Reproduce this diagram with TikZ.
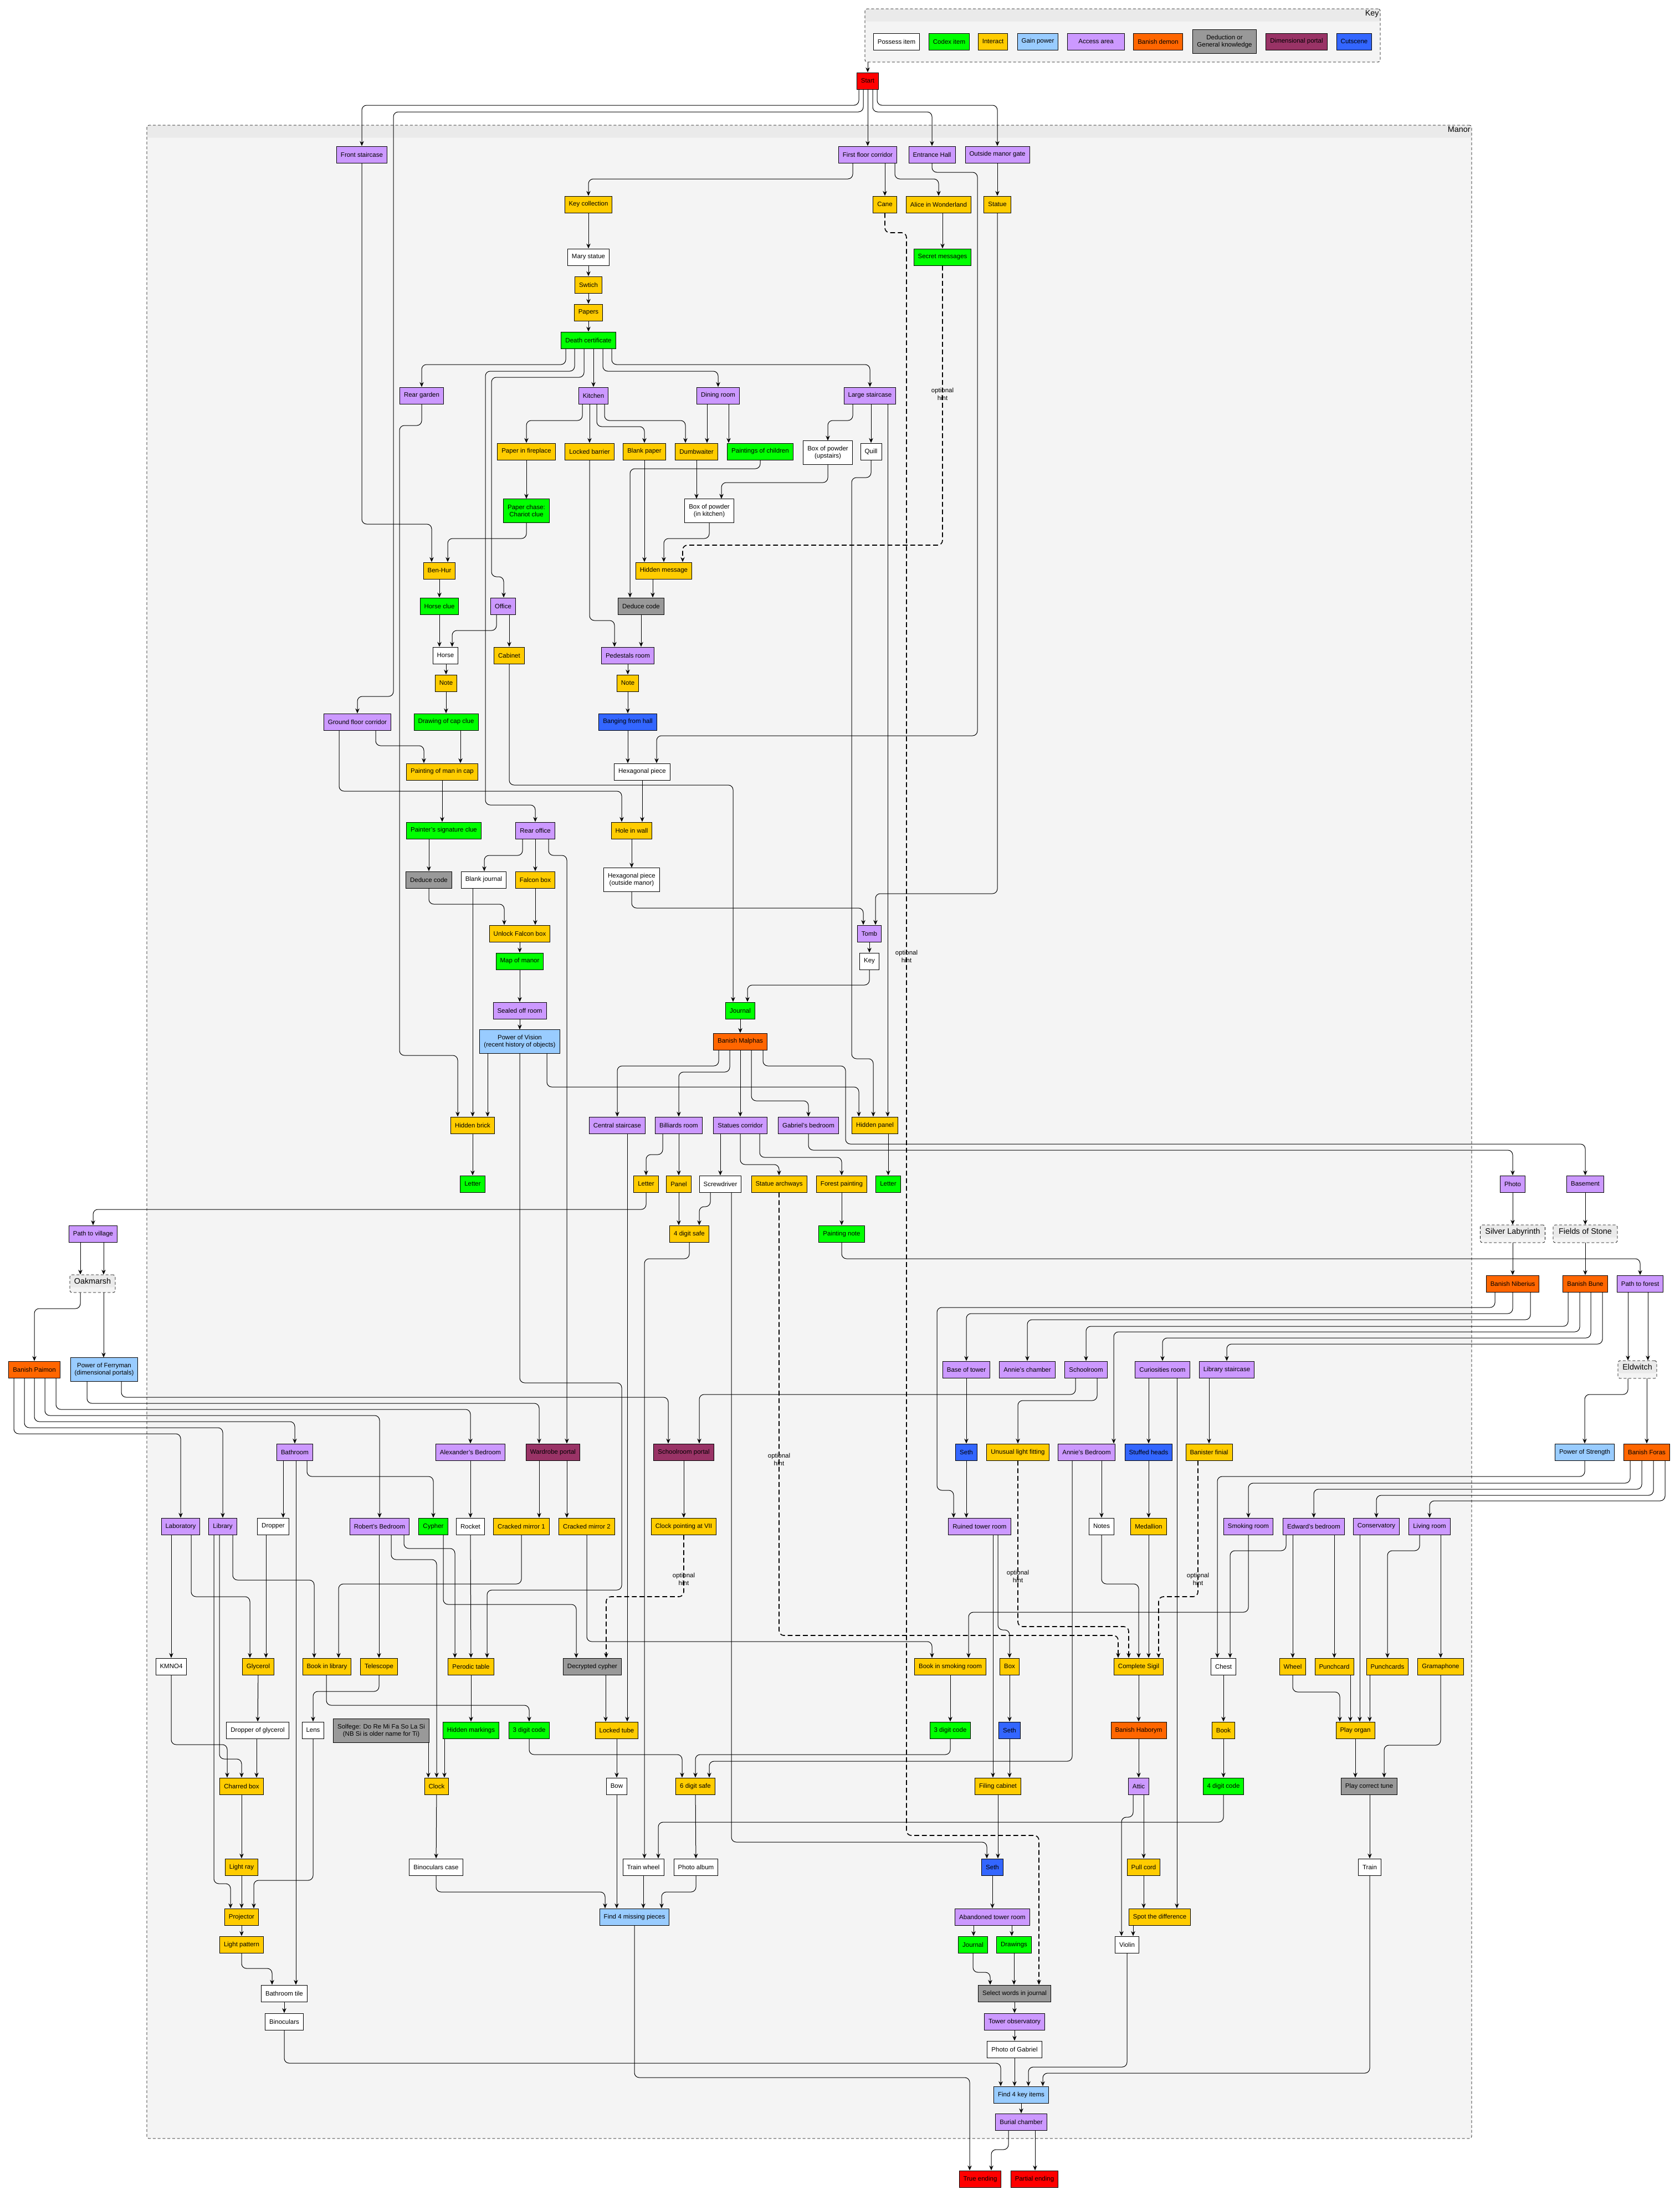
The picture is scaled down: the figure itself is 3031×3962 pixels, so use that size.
\documentclass[tikz,border=0pt]{standalone}
\usepackage{fontspec}
\setmainfont{Liberation Sans}
\usepackage{tikz}
\usetikzlibrary{arrows.meta, fit}

\definecolor{ccodex}{HTML}{00FF00}
\definecolor{cint}{HTML}{FFCC00}
\definecolor{cpow}{HTML}{99CCFF}
\definecolor{carea}{HTML}{CC99FF}
\definecolor{cdemon}{HTML}{FF6600}
\definecolor{cded}{HTML}{999999}
\definecolor{cportal}{HTML}{993366}
\definecolor{ccut}{HTML}{3366FF}
\definecolor{cend}{HTML}{FF0000}
\definecolor{cfill}{HTML}{F4F4F4}
\definecolor{cband}{HTML}{EAEAEA}

\tikzset{
  box/.style={draw, line width=0.8pt, inner xsep=6pt, inner ysep=2pt, minimum height=24pt,
    font=\fontsize{9.2}{11}\selectfont, align=center},
  two/.style={minimum height=34pt},
  poss/.style={box, fill=white},
  codex/.style={box, fill=ccodex},
  intr/.style={box, fill=cint},
  power/.style={box, fill=cpow},
  area/.style={box, fill=carea},
  demon/.style={box, fill=cdemon},
  deduce/.style={box, fill=cded},
  portal/.style={box, fill=cportal},
  scene/.style={box, fill=ccut},
  finish/.style={box, fill=cend},
  band/.style={path picture={\fill[cband] (path picture bounding box.north west)
    rectangle ([yshift=-18pt]path picture bounding box.north east);}},
  cont/.style={draw, dash pattern=on 4pt off 3pt, line width=0.6pt, rounded corners=3pt,
    fill=cfill, inner sep=0pt, band},
  grp/.style={cont, minimum height=25.6pt, inner xsep=3pt,
    font=\fontsize{11.5}{13}\selectfont, text height=8.5pt, text depth=7.5pt},
  ttl/.style={font=\fontsize{11.5}{13}\selectfont, inner sep=2pt},
  e/.style={-{Stealth[length=7pt,width=6pt]}, line width=0.8pt, rounded corners=7pt},
  opt/.style={e, line width=1.3pt, dash pattern=on 7pt off 4pt},
  hint/.style={font=\fontsize{9.2}{11}\selectfont, align=center, inner sep=0pt},
}

\begin{document}
\begin{tikzpicture}[x=0.8pt, y=-0.8pt]
\path[use as bounding box, fill=white] (0,0) rectangle (3031,3962);

% Containers
\node[cont, fit={(265,226) (2656,3860)}] (manor) {};
\node[ttl, anchor=north east] at (manor.north east) {Manor};
\node[cont, fit={(1561,16) (2491,112)}] (keybox) {};
\node[ttl, anchor=north east] at (keybox.north east) {Key};

% Key
\node[poss] (kPoss) at (1618,75) {Possess item};
\node[codex] (kCodex) at (1713,75) {Codex item};
\node[intr] (kInt) at (1792,75) {Interact};
\node[power] (kPow) at (1873,75) {Gain power};
\node[area, minimum width=83pt] (kArea) at (1978,75) {Access area};
\node[demon] (kDemon) at (2090,75) {Banish demon};
\node[deduce, two] (kDed) at (2210,75) {Deduction or\\General knowledge};
\node[portal] (kPortal) at (2340,75) {Dimensional portal};
\node[scene] (kScene) at (2444,75) {Cutscene};

\node[finish] (start) at (1566,146) {Start};

% Manor, upper floors
\node[area] (frontst) at (653,279) {Front staircase};
\node[area] (ffcorr) at (1566,279) {First floor corridor};
\node[area] (enthall) at (1682,279) {Entrance Hall};
\node[area] (outgate) at (1800,279) {Outside manor gate};
\node[intr] (keycoll) at (1062,369) {Key collection};
\node[intr] (cane) at (1597,369) {Cane};
\node[intr] (alice) at (1694,369) {Alice in Wonderland};
\node[intr] (statue) at (1800,369) {Statue};
\node[poss] (mary) at (1062,464) {Mary statue};
\node[codex] (secret) at (1701,464) {Secret messages};
\node[intr] (swtich) at (1062,514) {Swtich};
\node[intr] (papers) at (1062,564) {Papers};
\node[codex] (death) at (1062,614) {Death certificate};
\node[area] (reargdn) at (761,714) {Rear garden};
\node[area] (kitchen) at (1071,714) {Kitchen};
\node[area] (dining) at (1296,714) {Dining room};
\node[area] (largest) at (1570,714) {Large staircase};
\node[intr] (fireplc) at (950,815) {Paper in fireplace};
\node[intr] (barrier) at (1064,815) {Locked barrier};
\node[intr] (blankpp) at (1163,815) {Blank paper};
\node[intr] (dumbw) at (1257,815) {Dumbwaiter};
\node[codex] (paintch) at (1372,815) {Paintings of children};
\node[poss, two] (powup) at (1494,817) {Box of powder\\(upstairs)};
\node[poss] (quill) at (1572,815) {Quill};
\node[codex, two] (chariot) at (950,922) {Paper chase:\\Chariot clue};
\node[poss, two] (powkit) at (1280,922) {Box of powder\\(in kitchen)};
\node[intr] (benhur) at (793,1030) {Ben-Hur};
\node[intr] (hidmsg) at (1198,1030) {Hidden message};
\node[codex] (horsecl) at (793,1094) {Horse clue};
\node[area] (office) at (908,1094) {Office};
\node[deduce] (dedcode2) at (1157,1094) {Deduce code};
\node[poss] (horse) at (804,1183) {Horse};
\node[intr] (cabinet) at (919,1183) {Cabinet};
\node[area] (pedest) at (1133,1183) {Pedestals room};
\node[intr] (note1) at (805,1233) {Note};
\node[intr] (note2) at (1133,1233) {Note};
\node[area] (gfcorr) at (645,1303) {Ground floor corridor};
\node[codex] (capclue) at (805,1303) {Drawing of cap clue};
\node[scene] (banging) at (1133,1303) {Banging from hall};
\node[intr] (mancap) at (798,1393) {Painting of man in cap};
\node[poss] (hexa) at (1159,1393) {Hexagonal piece};
\node[codex] (signat) at (801,1499) {Painter's signature clue};
\node[area] (rearoff) at (966,1499) {Rear office};
\node[intr] (holewall) at (1140,1499) {Hole in wall};
\node[deduce] (dedcode1) at (774,1588) {Deduce code};
\node[poss] (blankjr) at (873,1588) {Blank journal};
\node[intr] (falcon) at (966,1588) {Falcon box};
\node[poss, two] (hexout) at (1140,1588) {Hexagonal piece\\(outside manor)};
\node[intr] (unlock) at (938,1685) {Unlock Falcon box};
\node[area] (tomb) at (1569,1685) {Tomb};
\node[codex] (mapman) at (938,1735) {Map of manor};
\node[poss] (keyitem) at (1569,1735) {Key};
\node[area] (sealed) at (938,1824) {Sealed off room};
\node[codex] (journal1) at (1336,1824) {Journal};
\node[power, two] (vision) at (938,1880) {Power of Vision\\(recent history of objects)};
\node[demon] (malphas) at (1336,1880) {Banish Malphas};
\node[intr] (hidbrick) at (853,2031) {Hidden brick};
\node[area] (central) at (1114,2031) {Central staircase};
\node[area] (billiard) at (1225,2031) {Billiards room};
\node[area] (statcorr) at (1336,2031) {Statues corridor};
\node[area] (gabriel) at (1459,2031) {Gabriel's bedroom};
\node[intr] (hidpanel) at (1579,2031) {Hidden panel};
\node[codex] (letterg1) at (853,2137) {Letter};
\node[intr] (lettery) at (1166,2137) {Letter};
\node[intr] (panel) at (1225,2137) {Panel};
\node[poss] (screwd) at (1300,2137) {Screwdriver};
\node[intr] (archway) at (1406,2137) {Statue archways};
\node[intr] (forestp) at (1519,2137) {Forest painting};
\node[codex] (letterg2) at (1603,2137) {Letter};
\node[intr] (safe4) at (1244,2227) {4 digit safe};
\node[codex] (paintnote) at (1519,2227) {Painting note};

% Outside the manor
\node[area] (photo) at (2730,2137) {Photo};
\node[area] (basement) at (2861,2137) {Basement};
\node[grp, minimum width=93.6pt] (silver) at (2730,2227) {Silver Labyrinth};
\node[grp, minimum width=92.8pt] (fields) at (2861,2227) {Fields of Stone};
\node[demon] (niberius) at (2730,2317) {Banish Niberius};
\node[demon] (bune) at (2861,2317) {Banish Bune};
\node[area] (pathfor) at (2960,2317) {Path to forest};
\node[grp, minimum width=56pt] (eldwitch) at (2955,2472) {Eldwitch};
\node[power] (strength) at (2860,2621) {Power of Strength};
\node[demon] (foras) at (2972,2621) {Banish Foras};
\node[area] (pathvil) at (168,2227) {Path to village};
\node[grp, minimum width=65.6pt] (oak) at (167,2317) {Oakmarsh};
\node[demon] (paimon) at (62,2472) {Banish Paimon};
\node[power, two] (ferry) at (188,2472) {Power of Ferryman\\(dimensional portals)};

% Manor, lower part
\node[area] (towerbase) at (1744,2472) {Base of tower};
\node[area] (anniech) at (1854,2472) {Annie's chamber};
\node[area] (school) at (1960,2472) {Schoolroom};
\node[area] (curios) at (2098,2472) {Curiosities room};
\node[area] (libstair) at (2214,2472) {Library staircase};
\node[area] (bathroom) at (532,2621) {Bathroom};
\node[area] (alexbed) at (849,2621) {Alexander's Bedroom};
\node[portal] (wardrobe) at (998,2621) {Wardrobe portal};
\node[portal] (schportal) at (1234,2621) {Schoolroom portal};
\node[scene] (seth1) at (1744,2621) {Seth};
\node[intr] (lightfit) at (1837,2621) {Unusual light fitting};
\node[area] (anniebed) at (1961,2621) {Annie's Bedroom};
\node[scene] (stuffed) at (2073,2621) {Stuffed heads};
\node[intr] (banister) at (2182,2621) {Banister finial};
\node[area] (lab) at (326,2755) {Laboratory};
\node[area] (library) at (402,2755) {Library};
\node[poss] (dropper) at (493,2755) {Dropper};
\node[area] (robbed) at (685,2755) {Robert's Bedroom};
\node[codex] (cypher) at (782,2755) {Cypher};
\node[poss] (rocket) at (849,2755) {Rocket};
\node[intr] (mirror1) at (941,2755) {Cracked mirror 1};
\node[intr] (mirror2) at (1059,2755) {Cracked mirror 2};
\node[intr] (clockvii) at (1234,2755) {Clock pointing at VII};
\node[area] (ruined) at (1768,2755) {Ruined tower room};
\node[poss] (notes) at (1988,2755) {Notes};
\node[intr] (medal) at (2073,2755) {Medallion};
\node[area] (smoking) at (2253,2755) {Smoking room};
\node[area] (edward) at (2371,2755) {Edward's bedroom};
\node[area] (conserv) at (2484,2755) {Conservatory};
\node[area] (living) at (2580,2755) {Living room};
\node[poss] (kmno) at (309,3008) {KMNO4};
\node[intr] (glycerol) at (466,3008) {Glycerol};
\node[intr] (booklib) at (590,3008) {Book in library};
\node[intr] (telescope) at (684,3008) {Telescope};
\node[intr] (periodic) at (850,3008) {Perodic table};
\node[deduce] (decrypt) at (1069,3008) {Decrypted cypher};
\node[intr] (booksmk) at (1715,3008) {Book in smoking room};
\node[intr] (box) at (1822,3008) {Box};
\node[intr] (sigil) at (2055,3008) {Complete Sigil};
\node[poss] (chest) at (2208,3008) {Chest};
\node[intr] (wheel) at (2333,3008) {Wheel};
\node[intr] (punch1) at (2408,3008) {Punchcard};
\node[intr] (punch2) at (2504,3008) {Punchcards};
\node[intr] (gramo) at (2600,3008) {Gramaphone};
\node[poss] (dropgly) at (465,3123) {Dropper of glycerol};
\node[poss] (lens) at (565,3123) {Lens};
\node[deduce, two] (solfege) at (688,3124) {Solfege: Do Re Mi Fa So La Si\\(NB Si is older name for Ti)};
\node[codex] (hidmark) at (850,3123) {Hidden markings};
\node[codex] (code3a) at (955,3123) {3 digit code};
\node[intr] (lockedtube) at (1113,3123) {Locked tube};
\node[codex] (code3b) at (1715,3123) {3 digit code};
\node[scene] (seth2) at (1822,3123) {Seth};
\node[demon] (haborym) at (2055,3123) {Banish Haborym};
\node[intr] (book) at (2208,3123) {Book};
\node[intr] (organ) at (2446,3123) {Play organ};
\node[intr] (charred) at (436,3224) {Charred box};
\node[intr] (clock) at (788,3224) {Clock};
\node[poss] (bow) at (1113,3224) {Bow};
\node[intr] (safe6) at (1255,3224) {6 digit safe};
\node[intr] (filing) at (1801,3224) {Filing cabinet};
\node[area] (attic) at (2055,3224) {Attic};
\node[codex] (code4) at (2208,3224) {4 digit code};
\node[deduce] (tune) at (2471,3224) {Play correct tune};
\node[intr] (lightray) at (436,3370) {Light ray};
\node[poss] (binocase) at (787,3370) {Binoculars case};
\node[poss] (trainwh) at (1161,3370) {Train wheel};
\node[poss] (album) at (1256,3370) {Photo album};
\node[scene] (seth3) at (1791,3370) {Seth};
\node[intr] (pullcord) at (2064,3370) {Pull cord};
\node[poss] (train) at (2472,3370) {Train};
\node[intr] (projector) at (436,3460) {Projector};
\node[power] (missing) at (1145,3460) {Find 4 missing pieces};
\node[area] (abandon) at (1791,3460) {Abandoned tower room};
\node[intr] (spotdiff) at (2093,3460) {Spot the difference};
\node[intr] (lightpat) at (436,3510) {Light pattern};
\node[codex] (journal2) at (1756,3510) {Journal};
\node[codex] (drawings) at (1830,3510) {Drawings};
\node[poss] (violin) at (2034,3510) {Violin};
\node[poss] (bathtile) at (513,3598) {Bathroom tile};
\node[deduce] (selwords) at (1831,3598) {Select words in journal};
\node[poss] (binoc) at (513,3649) {Binoculars};
\node[area] (towerobs) at (1831,3649) {Tower observatory};
\node[poss] (photogab) at (1831,3699) {Photo of Gabriel};
\node[power] (keyitems) at (1843,3781) {Find 4 key items};
\node[area] (burial) at (1843,3830) {Burial chamber};
\node[finish] (trueend) at (1769,3933) {True ending};
\node[finish] (partend) at (1867,3933) {Partial ending};

% Start and first floor
\draw[e] (keybox.south -| start) -- (start);
\draw[e] (start.south -| 1550,0) |- (653,190) -- (frontst);
\draw[e] (start.south -| 1558,0) |- (710,202) |- (645,1257) -- (gfcorr);
\draw[e] (start) -- (ffcorr);
\draw[e] (start.south -| 1575,0) |- (1682,202) -- (enthall);
\draw[e] (start.south -| 1583,0) |- (1800,190) -- (outgate);
\draw[e] (ffcorr.south -| 1539,0) |- (1062,323) -- (keycoll);
\draw[e] (ffcorr.south -| cane) -- (cane);
\draw[e] (ffcorr.south -| 1615,0) |- (1694,323) -- (alice);
\draw[e] (enthall.south) |- (1764,311) |- (1185,1328) -- (hexa.north -| 1185,0);
\draw[e] (outgate) -- (statue);
\draw[e] (statue) |- (1580,1613) -- (tomb.north -| 1580,0);
\draw[e] (keycoll) -- (mary);
\draw[e] (mary) -- (swtich);
\draw[e] (swtich) -- (papers);
\draw[e] (papers) -- (death);
\draw[e] (alice.south -| secret) -- (secret);
\draw[opt] (cane) |- (1636,420) -- (1636,1726) node[hint] {optional\\hint} |- (1875,3313) -- (selwords.north -| 1875,0);
\draw[opt] (secret) -- (1701,711) node[hint] {optional\\hint} |- (1232,984) -- (hidmsg.north -| 1232,0);

% Death certificate and the rooms it opens
\draw[e] (death.south -| 1021,0) |- (761,658) -- (reargdn);
\draw[e] (death.south -| 1037,0) |- (876,670) |- (966,1453) -- (rearoff);
\draw[e] (death.south -| 1054,0) |- (887,681) |- (909,1041) -- (office.north -| 909,0);
\draw[e] (death.south -| kitchen) -- (kitchen);
\draw[e] (death.south -| 1088,0) |- (1296,670) -- (dining);
\draw[e] (death.south -| 1104,0) |- (1570,658) -- (largest);
\draw[e] (kitchen.south -| 1051,0) |- (950,759) -- (fireplc);
\draw[e] (kitchen.south -| barrier) -- (barrier);
\draw[e] (kitchen.south -| 1077,0) |- (1163,770) -- (blankpp);
\draw[e] (kitchen.south -| 1091,0) |- (1237,759) -- (dumbw.north -| 1237,0);
\draw[e] (dining.south -| 1276,0) -- (dumbw.north -| 1276,0);
\draw[e] (dining.south -| 1315,0) -- (paintch.north -| 1315,0);
\draw[e] (largest.south -| 1539,0) |- (1494,759) -- (powup);
\draw[e] (largest.south -| quill) -- (quill);
\draw[e] (largest.south -| 1602,0) -- (hidpanel.north -| 1602,0);
\draw[e] (fireplc) -- (chariot);
\draw[e] (barrier) |- (1109,1120) -- (pedest.north -| 1109,0);
\draw[e] (blankpp) -- (hidmsg.north -| blankpp);
\draw[e] (dumbw) -- (powkit.north -| dumbw);
\draw[e] (paintch) |- (1137,846) -- (dedcode2.north -| 1137,0);
\draw[e] (powup) |- (1302,871) -- (powkit.north -| 1302,0);
\draw[e] (quill) |- (1537,862) |- (1576,1911) -- (hidpanel.north -| 1576,0);
\draw[e] (powkit) |- (1198,972) -- (hidmsg);
\draw[e] (hidmsg.south -| 1178,0) -- (dedcode2.north -| 1178,0);
\draw[e] (dedcode2) -- (pedest.north -| dedcode2);
\draw[e] (pedest) -- (note2);
\draw[e] (note2) -- (banging);
\draw[e] (banging) -- (hexa.north -| banging);
\draw[e] (hexa) -- (holewall.north -| hexa);
\draw[e] (holewall) -- (hexout);
\draw[e] (hexout) |- (1558,1639) -- (tomb.north -| 1558,0);
\draw[e] (tomb) -- (keyitem);
\draw[e] (keyitem) |- (1349,1778) -- (journal1.north -| 1349,0);
\draw[e] (cabinet) |- (1323,1417) -- (journal1.north -| 1323,0);
\draw[e] (journal1) -- (malphas);

% Ground floor, west wing
\draw[e] (frontst) |- (779,946) -- (benhur.north -| 779,0);
\draw[e] (chariot) |- (808,972) -- (benhur.north -| 808,0);
\draw[e] (benhur) -- (horsecl);
\draw[e] (horsecl) -- (horse.north -| horsecl);
\draw[e] (office.south -| 896,0) |- (816,1138) -- (horse.north -| 816,0);
\draw[e] (office.south -| cabinet) -- (cabinet);
\draw[e] (horse.south -| note1) -- (note1);
\draw[e] (note1) -- (capclue);
\draw[e] (capclue.south -| 831,0) -- (mancap.north -| 831,0);
\draw[e] (gfcorr.south -| 678,0) |- (765,1346) -- (mancap.north -| 765,0);
\draw[e] (gfcorr.south -| 612,0) |- (1122,1428) -- (holewall.north -| 1122,0);
\draw[e] (reargdn) |- (721,768) |- (826,1905) -- (hidbrick.north -| 826,0);
\draw[e] (mancap) -- (signat.north -| mancap);
\draw[e] (signat.south -| dedcode1) -- (dedcode1);
\draw[e] (rearoff.south -| 943,0) |- (874,1544) -- (blankjr.north -| 874,0);
\draw[e] (rearoff) -- (falcon);
\draw[e] (rearoff.south -| 990,0) |- (1023,1544) -- (wardrobe.north -| 1023,0);
\draw[e] (dedcode1) |- (910,1632) -- (unlock.north -| 910,0);
\draw[e] (falcon) -- (unlock.north -| falcon);
\draw[e] (unlock) -- (mapman);
\draw[e] (mapman) -- (sealed);
\draw[e] (sealed) -- (vision);
\draw[e] (blankjr.south -| hidbrick) -- (hidbrick);
\draw[e] (vision.south -| 880,0) -- (hidbrick.north -| 880,0);
\draw[e] (vision) |- (1122,2496) |- (879,2870) -- (periodic.north -| 879,0);
\draw[e] (vision.south -| 987,0) |- (1550,1962) -- (hidpanel.north -| 1550,0);
\draw[e] (hidbrick) -- (letterg1);

% Banish Malphas
\draw[e] (malphas.south -| 1297,0) |- (1114,1924) -- (central);
\draw[e] (malphas.south -| 1317,0) |- (1225,1935) -- (billiard);
\draw[e] (malphas) -- (statcorr);
\draw[e] (malphas.south -| 1356,0) |- (1459,1987) -- (gabriel);
\draw[e] (malphas.south -| 1377,0) |- (1526,1924) |- (2861,2065) -- (basement);
\draw[e] (gabriel) |- (2730,2076) -- (photo);
\draw[e] (hidpanel.south -| letterg2) -- (letterg2);
\draw[e] (billiard.south -| 1196,0) |- (1166,2084) -- (lettery);
\draw[e] (billiard) -- (panel);
\draw[e] (statcorr.south -| screwd) -- (screwd);
\draw[e] (statcorr) |- (1406,2102) -- (archway);
\draw[e] (statcorr.south -| 1371,0) |- (1519,2089) -- (forestp);
\draw[e] (lettery) |- (168,2183) -- (pathvil);
\draw[e] (panel) -- (safe4.north -| panel);
\draw[e] (screwd.south -| 1282,0) |- (1262,2178) -- (safe4.north -| 1262,0);
\draw[e] (screwd.south -| 1320,0) |- (1781,3325) -- (seth3.north -| 1781,0);
\draw[e] (safe4) |- (1163,2272) -- (trainwh.north -| 1163,0);
\draw[e] (forestp) -- (paintnote);
\draw[e] (paintnote) |- (2960,2272) -- (pathfor);
\draw[opt] (archway) -- (1406,2634) node[hint] {optional\\hint} |- (2018,2952) -- (sigil.north -| 2018,0);

% Labyrinth, Fields of Stone, Eldwitch
\draw[e] (photo) -- (silver);
\draw[e] (silver) -- (niberius);
\draw[e] (basement) -- (fields);
\draw[e] (fields) -- (bune);
\draw[e] (niberius.south -| 2698,0) |- (1691,2360) |- (1721,2690) -- (ruined.north -| 1721,0);
\draw[e] (niberius) |- (1744,2371) -- (towerbase);
\draw[e] (niberius.south -| 2762,0) |- (1854,2382) -- (anniech);
\draw[e] (bune.south -| 2830,0) |- (1960,2394) -- (school);
\draw[e] (bune.south -| 2851,0) |- (2010,2404) -- (anniebed.north -| 2010,0);
\draw[e] (bune.south -| 2871,0) |- (2098,2415) -- (curios);
\draw[e] (bune.south -| 2892,0) |- (2214,2426) -- (libstair);
\draw[e] (pathfor.south -| 2938,0) -- (eldwitch.north -| 2938,0);
\draw[e] (pathfor.south -| 2974,0) -- (eldwitch.north -| 2974,0);
\draw[e] (eldwitch.south -| 2938,0) |- (2860,2517) -- (strength);
\draw[e] (eldwitch.south -| foras) -- (foras);
\draw[e] (strength) |- (2197,2665) -- (chest.north -| 2197,0);
\draw[e] (foras.south -| 2942,0) |- (2253,2677) -- (smoking);
\draw[e] (foras.south -| 2963,0) |- (2371,2688) -- (edward);
\draw[e] (foras.south -| 2984,0) |- (2484,2699) -- (conserv);
\draw[e] (foras.south -| 3005,0) |- (2580,2709) -- (living);

% Oakmarsh
\draw[e] (pathvil.south -| 145,0) -- (oak.north -| 145,0);
\draw[e] (pathvil.south -| 187,0) -- (oak.north -| 187,0);
\draw[e] (oak.south -| 145,0) |- (62,2362) -- (paimon);
\draw[e] (oak.south -| 187,0) -- (ferry.north -| 187,0);
\draw[e] (paimon.south -| 25,0) |- (326,2588) -- (lab);
\draw[e] (paimon.south -| 44,0) |- (402,2577) -- (library);
\draw[e] (paimon.south -| 62,0) |- (532,2566) -- (bathroom);
\draw[e] (paimon.south -| 81,0) |- (685,2555) -- (robbed);
\draw[e] (paimon.south -| 101,0) |- (849,2544) -- (alexbed);
\draw[e] (ferry.south -| 157,0) |- (973,2533) -- (wardrobe.north -| 973,0);
\draw[e] (ferry.south -| 219,0) |- (1206,2522) -- (schportal.north -| 1206,0);

% Schoolroom, tower, curiosities
\draw[e] (school.south -| 1941,0) |- (1262,2517) -- (schportal.north -| 1262,0);
\draw[e] (school.south -| 1980,0) |- (1837,2528) -- (lightfit);
\draw[e] (towerbase) -- (seth1);
\draw[e] (seth1) -- (ruined.north -| seth1);
\draw[opt] (lightfit) -- (1837,2845) node[hint] {optional\\hint} |- (2037,2936) -- (sigil.north -| 2037,0);
\draw[e] (anniebed.south -| notes) -- (notes);
\draw[e] (anniebed.south -| 1935,0) |- (1280,3179) -- (safe6.north -| 1280,0);
\draw[e] (curios.south -| stuffed) -- (stuffed);
\draw[e] (curios.south -| 2124,0) -- (spotdiff.north -| 2124,0);
\draw[e] (libstair.south -| banister) -- (banister);
\draw[opt] (banister.south -| 2162,0) -- (2162,2850) node[hint] {optional\\hint} |- (2091,2882) -- (sigil.north -| 2091,0);
\draw[e] (stuffed) -- (medal);
\draw[e] (medal) -- (sigil.north -| medal);
\draw[e] (notes) |- (2055,2859) -- (sigil);
\draw[e] (smoking) |- (1748,2910) -- (booksmk.north -| 1748,0);
\draw[e] (edward.south -| 2321,0) |- (2220,2799) -- (chest.north -| 2220,0);
\draw[e] (edward.south -| wheel) -- (wheel);
\draw[e] (edward.south -| punch1) -- (punch1);
\draw[e] (conserv.south -| 2454,0) -- (organ.north -| 2454,0);
\draw[e] (living.south -| 2562,0) |- (2504,2799) -- (punch2);
\draw[e] (living.south -| gramo) -- (gramo);
\draw[e] (wheel) |- (2418,3054) -- (organ.north -| 2418,0);
\draw[e] (punch1.south -| 2437,0) -- (organ.north -| 2437,0);
\draw[e] (punch2.south -| 2472,0) -- (organ.north -| 2472,0);
\draw[e] (gramo) |- (2498,3150) -- (tune.north -| 2498,0);
\draw[e] (organ) -- (tune.north -| organ);
\draw[e] (tune.south -| train) -- (train);
\draw[e] (train) |- (1882,3742) -- (keyitems.north -| 1882,0);
\draw[e] (sigil) -- (haborym);
\draw[e] (haborym) -- (attic);
\draw[e] (attic.south -| 2045,0) |- (2024,3280) -- (violin.north -| 2024,0);
\draw[e] (attic.south -| pullcord) -- (pullcord);
\draw[e] (pullcord) -- (spotdiff.north -| pullcord);
\draw[e] (spotdiff.south -| 2045,0) -- (violin.north -| 2045,0);
\draw[e] (violin) |- (1856,3731) -- (keyitems.north -| 1856,0);
\draw[e] (chest) -- (book);
\draw[e] (book) -- (code4);
\draw[e] (code4) |- (1188,3289) -- (trainwh.north -| 1188,0);
\draw[e] (ruined.south -| 1801,0) |- (1822,2942) -- (box);
\draw[e] (ruined.south -| 1792,0) -- (filing.north -| 1792,0);
\draw[e] (box) -- (seth2);
\draw[e] (seth2) -- (filing.north -| seth2);

% Portals, mirrors, safes
\draw[e] (mirror2) |- (1682,2963) -- (booksmk.north -| 1682,0);
\draw[e] (booksmk) -- (code3b);
\draw[e] (code3b) |- (1255,3167) -- (safe6);
\draw[e] (code3a) |- (1231,3167) -- (safe6.north -| 1231,0);
\draw[e] (safe6) -- (album);
\draw[e] (album) |- (1194,3415) -- (missing.north -| 1194,0);
\draw[e] (trainwh) -- (missing.north -| trainwh);
\draw[e] (bow) -- (missing.north -| bow);
\draw[e] (binocase) |- (1092,3415) -- (missing.north -| 1092,0);
\draw[e] (missing) |- (1750,3750) -- (trueend.north -| 1750,0);
\draw[e] (lockedtube) -- (bow);
\draw[e] (decrypt.south -| 1093,0) -- (lockedtube.north -| 1093,0);
\draw[e] (central.south -| 1132,0) -- (lockedtube.north -| 1132,0);
\draw[e] (cypher.south -| 800,0) |- (1040,2896) -- (decrypt.north -| 1040,0);
\draw[opt] (clockvii) -- (1234,2850) node[hint] {optional\\hint} |- (1094,2882) -- (decrypt.north -| 1094,0);
\draw[e] (schportal) -- (clockvii);
\draw[e] (wardrobe.south -| 973,0) -- (mirror1.north -| 973,0);
\draw[e] (wardrobe.south -| 1023,0) -- (mirror2.north -| 1023,0);
\draw[e] (mirror1) |- (611,2859) -- (booklib.north -| 611,0);
\draw[e] (alexbed) -- (rocket);
\draw[e] (rocket) -- (periodic);

% Bathroom, laboratory, library
\draw[e] (bathroom.south -| 511,0) -- (dropper.north -| 511,0);
\draw[e] (bathroom.south -| 534,0) -- (bathtile.north -| 534,0);
\draw[e] (bathroom.south -| 554,0) |- (782,2665) -- (cypher);
\draw[e] (lab.south -| kmno) -- (kmno);
\draw[e] (lab.south -| 345,0) |- (451,2882) -- (glycerol.north -| 451,0);
\draw[e] (library.south -| 386,0) |- (416,3400) -- (projector.north -| 416,0);
\draw[e] (library.south -| 396,0) |- (436,3175) -- (charred);
\draw[e] (library.south -| 420,0) |- (567,2852) -- (booklib.north -| 567,0);
\draw[e] (dropper.south -| 480,0) -- (glycerol.north -| 480,0);
\draw[e] (robbed.south -| telescope) -- (telescope);
\draw[e] (robbed.south -| 706,0) |- (788,2815) -- (clock);
\draw[e] (robbed.south -| 729,0) |- (821,2795) -- (periodic.north -| 821,0);
\draw[e] (glycerol) -- (dropgly);
\draw[e] (kmno) |- (410,3149) -- (charred.north -| 410,0);
\draw[e] (dropgly.south -| 463,0) -- (charred.north -| 463,0);
\draw[e] (charred) -- (lightray);
\draw[e] (lightray) -- (projector);
\draw[e] (telescope) |- (565,3053) -- (lens);
\draw[e] (lens) |- (458,3394) -- (projector.north -| 458,0);
\draw[e] (booklib.south -| 589,0) |- (955,3078) -- (code3a);
\draw[e] (periodic) -- (hidmark);
\draw[e] (solfege.south -| 773,0) -- (clock.north -| 773,0);
\draw[e] (hidmark.south -| 802,0) -- (clock.north -| 802,0);
\draw[e] (clock) -- (binocase);
\draw[e] (projector) -- (lightpat);
\draw[e] (lightpat) |- (491,3553) -- (bathtile.north -| 491,0);
\draw[e] (bathtile) -- (binoc);
\draw[e] (binoc) |- (1806,3724) -- (keyitems.north -| 1806,0);

% Tower observatory and the endings
\draw[e] (filing.south -| 1801,0) -- (seth3.north -| 1801,0);
\draw[e] (seth3) -- (abandon);
\draw[e] (abandon.south -| 1757,0) -- (journal2.north -| 1757,0);
\draw[e] (abandon.south -| 1826,0) -- (drawings.north -| 1826,0);
\draw[e] (journal2) |- (1787,3560) -- (selwords.north -| 1787,0);
\draw[e] (drawings) -- (selwords.north -| drawings);
\draw[e] (selwords) -- (towerobs);
\draw[e] (towerobs) -- (photogab);
\draw[e] (photogab) -- (keyitems.north -| photogab);
\draw[e] (keyitems) -- (burial);
\draw[e] (burial.south -| 1820,0) |- (1789,3880) -- (trueend.north -| 1789,0);
\draw[e] (burial.south -| 1868,0) -- (partend.north -| 1868,0);

\end{tikzpicture}
\end{document}
